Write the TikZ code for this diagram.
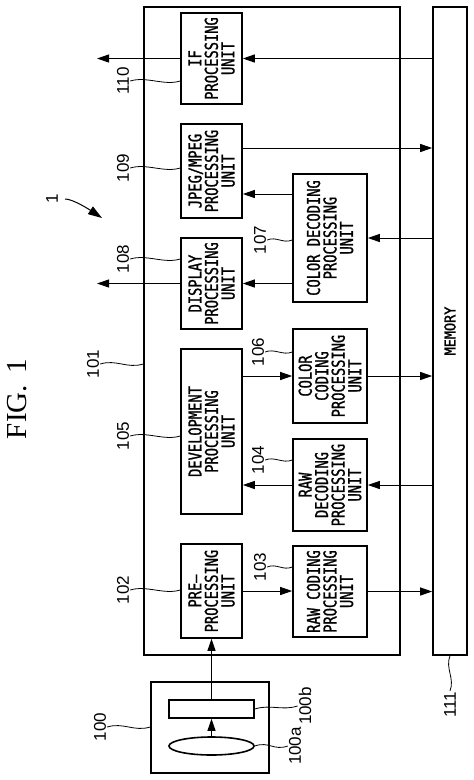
\documentclass[tikz,border=0pt]{standalone}
\usepackage{fontspec}
\usepackage{graphicx}
\usetikzlibrary{arrows.meta,shapes.geometric}
\newfontfamily\unitfont[FakeStretch=0.77,FakeBold=1.2]{DejaVu Sans Mono}
\newfontfamily\memfont[FakeStretch=0.9,FakeBold=1.5]{DejaVu Sans Mono}
\newfontfamily\numfont{Liberation Sans}
\newfontfamily\figfont{Liberation Serif}
% stacked lines, turned to read upwards
\newcommand\rottext[1]{\rotatebox{90}{\vbox{\let\\\cr\halign{\hfil##\hfil\cr#1\crcr}}}}

\begin{document}
\begin{tikzpicture}[x=1pt,y=-1pt,
  frame/.style={draw,line width=1.6pt,inner sep=0pt},
  unitbox/.style={frame,font=\unitfont\fontsize{17.8}{16.5}\selectfont},
  narrow/.style={unitbox,minimum width=61pt},
  wide/.style={unitbox,minimum width=74pt},
  refnum/.style={rotate=90,inner sep=1pt,font=\numfont\fontsize{17}{17}\selectfont},
  flow/.style={line width=1pt,-{Triangle[length=12pt,width=8pt]}},
  lead/.style={line width=0.8pt}]
\useasboundingbox (0,0) rectangle (474,780);

% outer blocks
\node[frame,minimum width=256pt,minimum height=648pt] (sys) at (272,331) {};
\node[frame,minimum width=34pt,minimum height=648pt] (mem) at (450,331)
  {\rotatebox{90}{\memfont\fontsize{15}{15}\selectfont MEMORY}};
\node[frame,minimum width=118pt,minimum height=91pt] (cam) at (210,727.5) {};
\node[frame,minimum width=85pt,minimum height=18pt] (sensor) at (211.5,709) {};
\node[frame,ellipse,minimum width=85pt,minimum height=18pt] (lens) at (211.5,746) {};

% left column
\node[narrow,minimum height=91pt] (ifu) at (211.5,58.5) {\rottext{IF\\PROCESSING\\UNIT}};
\node[narrow,minimum height=94pt] (jpeg) at (211.5,171) {\rottext{JPEG/MPEG\\PROCESSING\\UNIT}};
\node[narrow,minimum height=91pt] (disp) at (211.5,283.5) {\rottext{DISPLAY\\PROCESSING\\UNIT}};
\node[narrow,minimum height=165pt] (dev) at (211.5,431.5) {\rottext{DEVELOPMENT\\PROCESSING\\UNIT}};
\node[narrow,minimum height=94pt] (pre) at (211.5,591) {\rottext{PRE–\\PROCESSING\\UNIT}};

% right column
\node[wide,minimum height=128pt] (cdec) at (330,238) {\rottext{COLOR DECODING\\PROCESSING\\UNIT}};
\node[wide,minimum height=94pt] (ccod) at (330,376) {\rottext{COLOR\\CODING\\PROCESSING\\UNIT}};
\node[wide,minimum height=92pt] (rdec) at (330,485) {\rottext{RAW\\DECODING\\PROCESSING\\UNIT}};
\node[wide,minimum height=91pt] (rcod) at (330,591.5) {\rottext{RAW CODING\\PROCESSING\\UNIT}};

\coordinate (ifout) at (97,58.5);
\coordinate (dispout) at (97,283.5);
\coordinate (sysref) at (102,218);

% data paths
\draw[flow] (lens.north) -- (sensor.south);
\draw[flow] (sensor.north) -- (pre.south);
\draw[flow] (pre.east) -- (pre.east -| rcod.west);
\draw[flow] (rcod.east) -- (rcod.east -| mem.west);
\draw[flow] (mem.west |- rdec.east) -- (rdec.east);
\draw[flow] (rdec.west) -- (rdec.west -| dev.east);
\draw[flow] (dev.east |- ccod.west) -- (ccod.west);
\draw[flow] (ccod.east) -- (ccod.east -| mem.west);
\draw[flow] (mem.west |- cdec.east) -- (cdec.east);
\draw[flow] (cdec.west |- disp.east) -- (disp.east);
\draw[flow] ([yshift=-23pt]jpeg.east -| cdec.west) -- ([yshift=-23pt]jpeg.east);
\draw[flow] ([yshift=23pt]jpeg.east) -- ([yshift=23pt]jpeg.east -| mem.west);
\draw[flow] (mem.west |- ifu.east) -- (ifu.east);
\draw[flow] (ifu.west) -- (ifout);
\draw[flow] (disp.west) -- (dispout);

% reference numerals
\node[rotate=90,inner sep=0pt,font=\figfont\fontsize{29}{29}\selectfont] (fig) at (17,399) {FIG.\hspace{0.4em}1};
\node[refnum] (l1) at (52,199) {1};
\node[refnum] (l110) at (123,81) {110};
\node[refnum] (l109) at (123,168) {109};
\node[refnum] (l108) at (123,259) {108};
\node[refnum] (l101) at (93,364) {101};
\node[refnum] (l105) at (123,436) {105};
\node[refnum] (l102) at (123,590) {102};
\node[refnum] (l100) at (100,727) {100};
\node[refnum] (l107) at (260,240) {107};
\node[refnum] (l106) at (258,352) {106};
\node[refnum] (l104) at (258,460) {104};
\node[refnum] (l103) at (260,567) {103};
\node[refnum] (l100b) at (305,706) {100b};
\node[refnum] (l100a) at (295,746) {100a};
\node[refnum] (l111) at (450,705) {111};

\draw[line width=1pt,shorten <=6pt,-{Triangle[length=14pt,width=9pt]}]
  (l1.south) .. controls +(14,0) and +(-12,-8) .. (sysref);
\draw[lead] (l110.south) .. controls +(16,-5) and +(-16,5) .. (l110.south -| ifu.west);
\draw[lead] (l109.south) .. controls +(16,-5) and +(-16,5) .. (l109.south -| jpeg.west);
\draw[lead] (l108.south) .. controls +(16,-5) and +(-16,5) .. (l108.south -| disp.west);
\draw[lead] (l101.south) .. controls +(16,-5) and +(-16,5) .. (l101.south -| sys.west);
\draw[lead] (l105.south) .. controls +(16,-5) and +(-16,5) .. (l105.south -| dev.west);
\draw[lead] (l102.south) .. controls +(16,-5) and +(-16,5) .. (l102.south -| pre.west);
\draw[lead] (l100.south) .. controls +(16,-5) and +(-16,5) .. (l100.south -| cam.west);
\draw[lead] (l107.south) .. controls +(9,-4) and +(-9,4) .. (l107.south -| cdec.west);
\draw[lead] (l106.south) .. controls +(9,-4) and +(-9,4) .. (l106.south -| ccod.west);
\draw[lead] (l104.south) .. controls +(9,-4) and +(-9,4) .. (l104.south -| rdec.west);
\draw[lead] (l103.south) .. controls +(9,-4) and +(-9,4) .. (l103.south -| rcod.west);
\draw[lead] (sensor.east) .. controls +(16,-5) and +(-16,5) .. (l100b.north);
\draw[lead] (lens.east) .. controls +(14,-5) and +(-14,5) .. (l100a.north);
\draw[lead] (mem.south) .. controls +(-5,12) and +(5,-12) .. (l111.east);
\end{tikzpicture}
\end{document}
